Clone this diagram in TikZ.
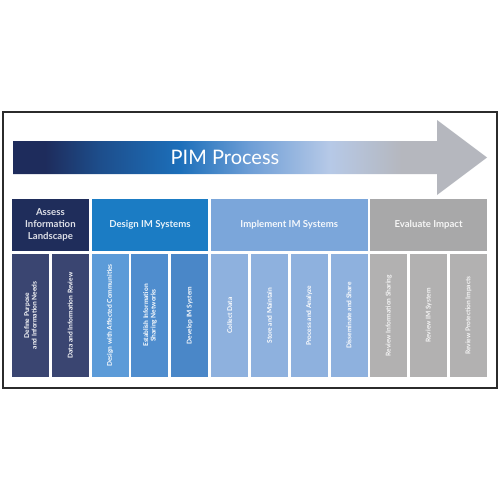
\documentclass[tikz,border=0pt]{standalone}
\usepackage{fontspec}
\setmainfont{Lato}
\usetikzlibrary{positioning}
\definecolor{cNavy}  {HTML}{1E2C5C}
\definecolor{cMidBl} {HTML}{1D4E8C}
\definecolor{cBlue}  {HTML}{1C6FBA}
\definecolor{cSky}   {HTML}{6E9ED6}
\definecolor{cPale}  {HTML}{B6C9E7}
\definecolor{cArrGr} {HTML}{B5B7BE}
\definecolor{cAssess}{HTML}{1F2D5B}
\definecolor{cDesign}{HTML}{1B7CC4}
\definecolor{cImpl}  {HTML}{7BA6DA}
\definecolor{cEval}  {HTML}{A8A8A9}
\definecolor{cLand}  {HTML}{3A4571}
\definecolor{cDesA}  {HTML}{5C9BD8}
\definecolor{cDesB}  {HTML}{4F8DCE}
\definecolor{cDesC}  {HTML}{4A87C8}
\definecolor{cImplS} {HTML}{8EB1DE}
\definecolor{cEvalS} {HTML}{B2B1B1}
\definecolor{cFrame} {HTML}{2B2B2B}
\pgfdeclarehorizontalshading{pimshade}{100bp}{%
  color(0bp)=(cNavy); color(25bp)=(cNavy); color(28.4bp)=(cNavy);
  color(34.2bp)=(cMidBl); color(42.6bp)=(cBlue); color(50bp)=(cSky);
  color(58.4bp)=(cPale); color(66bp)=(cArrGr); color(75bp)=(cArrGr);
  color(100bp)=(cArrGr)}
\tikzset{
  frame/.style ={draw=cFrame,line width=1.2pt},
  hdr/.style   ={anchor=north west,minimum height=52pt,inner sep=2pt,align=center,
                 font=\fontsize{9.6}{11.8}\selectfont\bfseries,outer sep=0pt},
  sub/.style   ={anchor=north west,minimum width=37pt,minimum height=123pt,
                 inner sep=0pt,outer sep=0pt},
  subtxt/.style={rotate=90,align=center,inner sep=0pt,
                 font=\fontsize{6.6}{7.6}\selectfont\bfseries},
}
\begin{document}
\begin{tikzpicture}[x=1pt,y=1pt]
\useasboundingbox[fill=white] (0,0) rectangle (500,-500);
\draw[frame] (3,-112) rectangle (497,-388);

% ---- process arrow -----------------------------------------------------
\shade[shading=pimshade] (13,-141) -- (437,-141) -- (437,-120) -- (487,-157.5)
  -- (437,-195) -- (437,-174) -- (13,-174) -- cycle;
\node[text=white,font=\fontsize{20}{22}\selectfont] (pim) at (225,-157.5) {PIM Process};

% ---- phase headers -----------------------------------------------------
\node[hdr,fill=cAssess,text=white!85!cAssess,minimum width=76.8pt] (assess) at (12,-199)
  {Assess\\Information\\Landscape};
\node[hdr,fill=cDesign,text=white!90!cDesign,minimum width=116.6pt,right=2.8pt of assess] (design)
  {Design IM Systems};
\node[hdr,fill=cImpl,text=white!92!cImpl,minimum width=156.5pt,right=2.8pt of design] (implement)
  {Implement IM Systems};
\node[hdr,fill=cEval,text=white!88!cEval,minimum width=116.6pt,right=2.8pt of implement] (evaluate)
  {Evaluate Impact};

% ---- steps -------------------------------------------------------------
\foreach \i/\col/\tcol/\txt in {%
  1/cLand/white/{Define Purpose\\and Information Needs},
  2/cLand/white/{Data and Information Review},
  3/cDesA/white/{Design with Affected Communities},
  4/cDesB/white/{Establish Information\\Sharing Networks},
  5/cDesC/white/{Develop IM System},
  6/cImplS/white/{Collect Data},
  7/cImplS/white/{Store and Maintain},
  8/cImplS/white/{Process and Analyze},
  9/cImplS/white/{Disseminate and Share},
  10/cEvalS/white!88!cEvalS/{Review Information Sharing},
  11/cEvalS/white!88!cEvalS/{Review IM System},
  12/cEvalS/white!88!cEvalS/{Review Protection Impacts}}
{
  \pgfmathsetmacro\xx{12+(\i-1)*39.82}
  \node[sub,fill=\col] (s\i) at (\xx,-254) {};
  \node[subtxt,text=\tcol] (t\i) at (s\i.center) {\txt};
}
\end{tikzpicture}
\end{document}
